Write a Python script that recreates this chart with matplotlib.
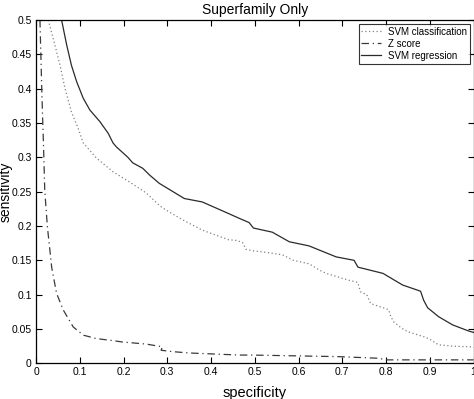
import matplotlib
matplotlib.use("Agg")
import matplotlib.pyplot as plt

plt.rcParams['font.family'] = ['Liberation Sans', 'DejaVu Sans']

title = "Superfamily Only"
xlabel = "specificity"
ylabel = "sensitivity"

svm_class_x = [0.028, 0.043, 0.055, 0.066, 0.081, 0.096, 0.108, 0.138, 0.176, 0.214, 0.252,
               0.282, 0.29, 0.335, 0.38, 0.44, 0.458, 0.472, 0.48, 0.494, 0.533, 0.563, 0.588,
               0.624, 0.647, 0.663, 0.699, 0.715, 0.735, 0.742, 0.756, 0.765, 0.793, 0.806,
               0.811, 0.818, 0.836, 0.85, 0.89, 0.9, 0.92, 0.95, 0.995, 1.0]
svm_class_y = [0.5, 0.464, 0.434, 0.401, 0.366, 0.343, 0.321, 0.299, 0.279, 0.264, 0.248,
               0.230, 0.226, 0.209, 0.194, 0.180, 0.179, 0.176, 0.166, 0.164, 0.161, 0.158, 0.150,
               0.145, 0.136, 0.131, 0.124, 0.121, 0.118, 0.104, 0.100, 0.087, 0.081, 0.078,
               0.068, 0.060, 0.051, 0.046, 0.038, 0.035, 0.027, 0.025, 0.024, 0.023]

zscore_x = [0.009, 0.013, 0.015, 0.017, 0.020, 0.026, 0.036, 0.047, 0.062, 0.085, 0.108,
            0.138, 0.176, 0.198, 0.252, 0.289, 0.286, 0.312, 0.351, 0.465, 0.494, 0.692,
            0.784, 0.80, 0.989, 1.0]
zscore_y = [0.5, 0.403, 0.36, 0.321, 0.252, 0.199, 0.139, 0.102, 0.078, 0.053, 0.041,
            0.036, 0.033, 0.031, 0.028, 0.024, 0.019, 0.017, 0.015, 0.012, 0.012, 0.0097,
            0.0073, 0.005, 0.005, 0.005]

svm_reg_x = [0.0585, 0.070, 0.081, 0.093, 0.108, 0.123, 0.146, 0.165, 0.176, 0.184, 0.21,
             0.221, 0.244, 0.26, 0.282, 0.339, 0.38, 0.437, 0.465, 0.487, 0.497, 0.54,
             0.579, 0.624, 0.686, 0.727, 0.736, 0.793, 0.838, 0.879, 0.886, 0.895, 0.92,
             0.952, 0.989, 1.0]
svm_reg_y = [0.5, 0.464, 0.434, 0.410, 0.386, 0.369, 0.352, 0.335, 0.321, 0.315, 0.30,
             0.292, 0.284, 0.274, 0.262, 0.240, 0.235, 0.219, 0.211, 0.205, 0.197, 0.191,
             0.177, 0.171, 0.155, 0.150, 0.140, 0.131, 0.114, 0.105, 0.092, 0.081, 0.068,
             0.056, 0.047, 0.045]

xticks = [0, 0.1, 0.2, 0.3, 0.4, 0.5, 0.6, 0.7, 0.8, 0.9, 1]
xticklabels = ["0", "0.1", "0.2", "0.3", "0.4", "0.5", "0.6", "0.7", "0.8", "0.9", "1"]
yticks = [0, 0.05, 0.1, 0.15, 0.2, 0.25, 0.3, 0.35, 0.4, 0.45, 0.5]
yticklabels = ["0", "0.05", "0.1", "0.15", "0.2", "0.25", "0.3", "0.35", "0.4", "0.45", "0.5"]

fig = plt.figure(figsize=(4.74, 3.99), dpi=100)
ax = fig.add_axes([36 / 474, 35.7 / 399, 437.5 / 474, 343.3 / 399])

ax.plot(svm_class_x, svm_class_y, linestyle=(0, (1, 2)), color='#808080', lw=0.9,
        label='SVM classification')
ax.plot(zscore_x, zscore_y, linestyle=(0, (6, 3, 1, 3)), color='#3a3a3a', lw=0.9,
        label='Z score')
ax.plot(svm_reg_x, svm_reg_y, linestyle='-', color='#2a2a2a', lw=0.9,
        label='SVM regression')

ax.set_xlim(0, 1)
ax.set_ylim(0, 0.5)
ax.set_xticks(xticks)
ax.set_xticklabels(xticklabels)
ax.set_yticks(yticks)
ax.set_yticklabels(yticklabels)
ax.tick_params(direction='in', top=True, right=True, length=4, width=0.8,
               labelsize=7.5, pad=3)
for s in ax.spines.values():
    s.set_linewidth(0.9)

ax.set_title(title, fontsize=10, pad=4)
ax.set_xlabel(xlabel, fontsize=10.5, labelpad=6)
ax.set_ylabel(ylabel, fontsize=10)
ax.yaxis.set_label_coords(-0.053, 0.5)

leg = ax.legend(loc='upper right', fontsize=7, frameon=True, fancybox=False,
                edgecolor='black', handlelength=2.0, handletextpad=0.7,
                borderpad=0.3, labelspacing=0.2, borderaxespad=0.4)
leg.get_frame().set_linewidth(0.8)

fig.savefig("out.png", dpi=100)
